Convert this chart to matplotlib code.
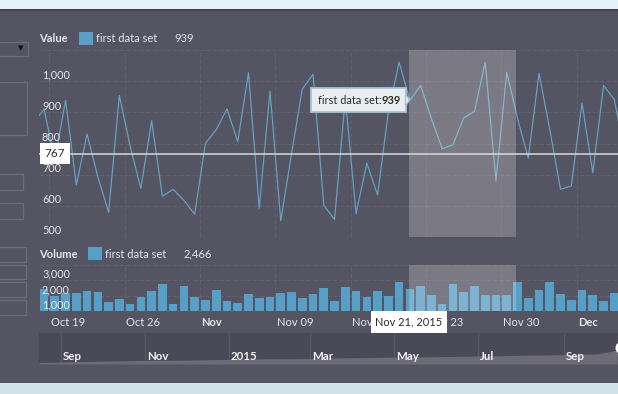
import matplotlib
matplotlib.use('Agg')
import matplotlib.pyplot as plt
import matplotlib.dates as mdates
import matplotlib.transforms as mtransforms
from matplotlib.patches import Rectangle, Polygon, Ellipse
import numpy as np
import pandas as pd

W, H = 618, 394

# ---------------- data ----------------
dates = pd.date_range('2015-10-17', '2015-12-11', freq='D')
values = [865, 911, 745, 939, 667, 831, 693, 579, 954, 792,
          656, 873, 631, 653, 618, 573, 801, 844, 911, 806,
          1027, 592, 968, 552, 767, 975, 1022, 602, 556, 945,
          575, 737, 635, 901, 1061, 939, 986, 880, 783, 796,
          882, 903, 1061, 680, 1029, 881, 753, 1025, 845, 653,
          664, 930, 706, 986, 941, 760]
volumes = [2000, 2419, 1987, 2161, 2200, 2329, 2264, 1580, 1774, 1439,
           1942, 2329, 2741, 1451, 2632, 1942, 1729, 2374, 1684, 1516,
           2135, 1838, 1942, 2200, 2245, 1877, 2096, 2535, 1684, 2587,
           2329, 1942, 2329, 1987, 2909, 2466, 2632, 2051, 1471, 2741,
           2226, 2632, 2051, 2051, 2051, 2909, 1877, 2374, 2909, 2096,
           1729, 2374, 2051, 1664, 2161, 2000]

value_ticks = [500, 600, 700, 800, 900, 1000]
value_grid = [500, 600, 700, 800, 900, 1000, 1100]
volume_ticks = [1000, 2000, 3000]
volume_grid = [1000, 2000, 3000, 4000]
week_ticks = ['2015-10-19', '2015-10-26', '2015-11-02', '2015-11-09',
              '2015-11-16', '2015-11-23', '2015-11-30', '2015-12-07']
week_labels = ['Oct 19', 'Oct 26', 'Nov', 'Nov 09', 'Nov 16', 'Nov 23', 'Nov 30', 'Dec']
bold_labels = ['Nov', 'Dec']

scroll_dates = pd.date_range('2014-08-16', '2015-10-17', freq='14D')
scroll_values = [5, 6, 8, 9, 10, 11, 12, 12, 13, 14, 15, 16, 17, 17, 18,
                 19, 20, 21, 22, 22, 23, 24, 25, 26, 27, 28, 29, 30, 31, 33, 45]
scroll_ticks = ['2014-09-01', '2014-11-01', '2015-01-01', '2015-03-01',
                '2015-05-01', '2015-07-01', '2015-09-01']
scroll_labels = ['Sep', 'Nov', '2015', 'Mar', 'May', 'Jul', 'Sep']

cursor_date = '2015-11-21'
cursor_value = 767
selection = ('2015-11-21', '2015-12-01')
series_name = 'first data set'

# ---------------- style ----------------
BG = '#555462'
LINE = '#64a6c6'
BAR = '#579fc6'
TXT = '#e6e6ea'
FS = 8.0
FONT = ['Lato', 'DejaVu Sans']
plt.rcParams['font.family'] = FONT

fig = plt.figure(figsize=(W / 100, H / 100), dpi=100, facecolor=BG)


def fx(x):
    return x / W


def fy(y):
    return 1 - y / H


def add_axes(x0, y0, x1, y1, **kw):
    return fig.add_axes([x0 / W, 1 - y1 / H, (x1 - x0) / W, (y1 - y0) / H], **kw)


def rect_px(x0, y0, x1, y1, **kw):
    r = Rectangle((fx(x0), fy(y1)), (x1 - x0) / W, (y1 - y0) / H,
                  transform=fig.transFigure, **kw)
    fig.patches.append(r)
    return r


# page decorations
rect_px(0, 0, W, 9, facecolor='#e2f2fa', edgecolor='none', zorder=-5)
rect_px(0, 9, W, 10.5, facecolor='#44434f', edgecolor='none', zorder=-5)
rect_px(0, 383, W, H, facecolor='#d2e3e9', edgecolor='none', zorder=-5)

# left-side control outlines
for (x0, y0, x1, y1) in [(-2, 41.7, 28, 56), (-2, 81.7, 26.7, 135), (-2, 174, 23.3, 190),
                         (-2, 203.3, 23.3, 219.3), (-2, 247, 26, 261.7), (-2, 264.5, 26, 279.3),
                         (-2, 282.3, 26, 297.3), (-2, 300, 26, 315)]:
    rect_px(x0, y0, x1, y1, facecolor='none', edgecolor='#6d6c79', lw=0.9, zorder=-4)
fig.text(fx(20.7), fy(47.7), '\u25bc', fontsize=5, color='#111111',
         ha='center', va='center', family=['DejaVu Sans'])

# x range
d0 = mdates.date2num(pd.Timestamp('2015-10-19'))
px_per_day = 10.76
xmin = d0 - (54.8 - 39) / px_per_day
xmax = d0 + (618 - 54.8) / px_per_day
dnum = mdates.date2num(dates)
cells = mdates.date2num(pd.to_datetime(week_ticks)) - 0.5
sel0 = mdates.date2num(pd.Timestamp(selection[0])) - 0.09
sel1 = mdates.date2num(pd.Timestamp(selection[1])) - 0.14


def style_panel(a, grid_vals):
    a.set_facecolor(BG)
    a.set_xlim(xmin, xmax)
    for s in a.spines.values():
        s.set_visible(False)
    a.set_xticks(cells)
    a.set_yticks(grid_vals)
    a.tick_params(length=0, labelbottom=False, labelleft=False)
    a.grid(True, color='white', alpha=0.07, lw=0.8, ls=(0, (4, 2)))


# ---------------- value panel ----------------
ax = add_axes(39, 50, 618, 237)
ax.set_ylim(500, 1100)
style_panel(ax, value_grid)
ax.plot(dnum, values, color=LINE, lw=0.85, zorder=2)
ax.axvspan(sel0, sel1, color='white', alpha=0.22, lw=0, zorder=3)
ax.axhline(cursor_value, color='#d9d9df', lw=1.1, zorder=4)
tr = mtransforms.blended_transform_factory(ax.transAxes, ax.transData)
tr = mtransforms.offset_copy(tr, fig=fig, y=6, units='dots')
for v in value_ticks:
    ax.text(3 / 579, v, f'{v:,}', transform=tr, ha='left', va='center',
            fontsize=7.8, color=TXT, zorder=5)

# ---------------- volume panel ----------------
av = add_axes(39, 264.8, 618, 311.3)
av.set_ylim(1000, 4000)
style_panel(av, volume_grid)
av.bar(dnum, volumes, width=0.8, color=BAR, zorder=2)
av.axvspan(sel0, sel1, color='white', alpha=0.22, lw=0, zorder=3)
trv = mtransforms.blended_transform_factory(av.transAxes, av.transData)
trv = mtransforms.offset_copy(trv, fig=fig, y=6, units='dots')
for v in volume_ticks:
    av.text(3 / 579, v, f'{v:,}', transform=trv, ha='left', va='center',
            fontsize=7.8, color=TXT, zorder=5)

# category axis labels
trx = mtransforms.blended_transform_factory(av.transData, fig.transFigure)
for c, lab in zip(cells, week_labels):
    av.text(c + 0.12, fy(323), lab, transform=trx, ha='left', va='center',
            fontsize=FS, color=TXT, fontweight='bold' if lab in bold_labels else 'normal',
            clip_on=False)

# ---------------- scrollbar ----------------
asb = add_axes(39, 333, 618, 364)
asb.set_facecolor('#4a4957')
s0 = mdates.date2num(pd.Timestamp('2014-09-01'))
spd = 1.377
asb.set_xlim(s0 - (61 - 39) / spd, s0 + (618 - 61) / spd)
asb.set_ylim(0, 100)
for s in asb.spines.values():
    s.set_visible(False)
sd = mdates.date2num(scroll_dates)
asb.fill_between(sd, scroll_values, color='#6c6b76', lw=0, zorder=2)
st = mdates.date2num(pd.to_datetime(scroll_ticks))
asb.set_xticks(st)
asb.set_yticks([])
asb.tick_params(length=0, labelbottom=False)
asb.grid(True, axis='x', color='white', alpha=0.08, lw=0.9)
trs = mtransforms.blended_transform_factory(asb.transData, fig.transFigure)
for t, lab in zip(st, scroll_labels):
    asb.text(t + 2 / spd, fy(356), lab, transform=trs, ha='left', va='center',
             fontsize=8.3, color='#f2f2f2', fontweight='bold', zorder=5)
fig.patches.append(Ellipse((fx(622), fy(348)), 13 / W, 13 / H, transform=fig.transFigure,
                           facecolor='white', edgecolor='none', zorder=6))

# ---------------- legends ----------------
idx = list(dates).index(pd.Timestamp(cursor_date))
fig.text(fx(39.3), fy(39), 'Value', fontsize=FS, fontweight='bold', color=TXT, va='center')
rect_px(79.3, 32, 92.7, 45, facecolor=BAR, edgecolor='none')
fig.text(fx(95.7), fy(39), series_name, fontsize=FS, color=TXT, va='center')
fig.text(fx(174.7), fy(39), f'{values[idx]:,}', fontsize=FS, color=TXT, va='center')

fig.text(fx(39.3), fy(254), 'Volume', fontsize=FS, fontweight='bold', color=TXT, va='center')
rect_px(88.3, 247.3, 101.7, 260, facecolor=BAR, edgecolor='none')
fig.text(fx(105), fy(254), series_name, fontsize=FS, color=TXT, va='center')
fig.text(fx(184), fy(254), f'{volumes[idx]:,}', fontsize=FS, color=TXT, va='center')

# ---------------- cursor balloons ----------------
rect_px(311, 88, 406, 112, facecolor='#e9edf0', edgecolor='#a7c5d6', lw=1.3, zorder=7)
fig.patches.append(Polygon([(fx(405.5), fy(94)), (fx(409.5), fy(100)), (fx(405.5), fy(106))],
                           closed=True, transform=fig.transFigure,
                           facecolor='#e9edf0', edgecolor='#a7c5d6', lw=1.0, zorder=7))
t1 = fig.text(fx(318), fy(100), series_name + ':', fontsize=7.9, color='#2b2b2b',
              va='center', ha='left', zorder=8)
ann = matplotlib.text.Annotation(
    f'{values[idx]}', xy=(1, 0.5), xycoords=t1, va='center', ha='left',
    fontsize=7.9, color='#2b2b2b', fontweight='bold', zorder=8)
ann.set_figure(fig)
fig.texts.append(ann)

rect_px(40, 143, 70, 164, facecolor='white', edgecolor='none', zorder=7)
fig.text(fx(55), fy(153.5), f'{cursor_value}', fontsize=8.5, color='#2b2b2b',
         va='center', ha='center', zorder=8)

rect_px(371, 310.7, 446.7, 333.3, facecolor='white', edgecolor='none', zorder=7)
fig.text(fx(408.8), fy(322.3), pd.Timestamp(cursor_date).strftime('%b %d, %Y'),
         fontsize=7.9, color='#2b2b2b', va='center', ha='center', zorder=8)

fig.savefig('out.png', dpi=100, facecolor=BG)
